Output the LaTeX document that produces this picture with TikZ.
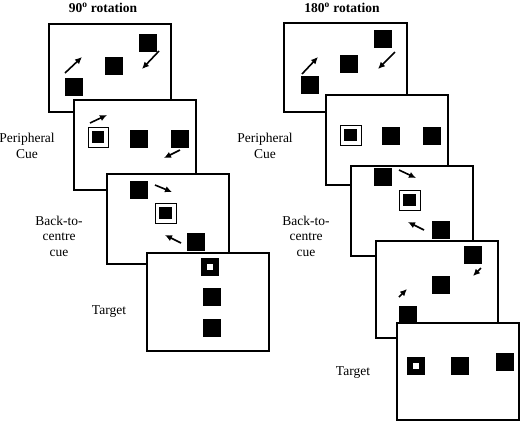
\documentclass[tikz,border=0pt]{standalone}
\usepackage{fontspec}
\setmainfont{Liberation Serif}
\usepackage{tikz}
\usetikzlibrary{arrows.meta}

\begin{document}
\begin{tikzpicture}[x=1pt, y=-1pt,
    screen/.style={draw, line width=1.4pt, fill=white},
    blk/.style={fill=black},
    ring/.style={draw, line width=0.9pt, fill=white},
    cue/.style={line width=1.6pt, -{Latex[length=7pt,width=6.5pt]}},
    lbl/.style={align=center, font=\fontsize{13.5}{15.5}\selectfont},
    ttl/.style={font=\fontsize{13.5}{15.5}\selectfont\bfseries}
    ]

    \useasboundingbox (0, 0) rectangle (520, 421);

    % 90 degree rotation
    \node[ttl] at (103, 8) {90\textsuperscript{o} rotation};

    \draw[screen] (49, 24) rectangle (171, 112);
    \fill[blk] (139, 34) rectangle (157, 52);
    \fill[blk] (105, 57) rectangle (123, 75);
    \fill[blk] (65, 78) rectangle (83, 96);
    \draw[cue] (65, 73) -- (82, 57);
    \draw[cue] (159, 51) -- (142, 69);

    \draw[screen] (74, 100) rectangle (196, 190);
    \draw[ring] (88, 127) rectangle (108, 147);
    \fill[blk] (92, 131) rectangle (104, 143);
    \fill[blk] (130, 130) rectangle (148, 148);
    \fill[blk] (171, 130) rectangle (189, 148);
    \draw[cue] (90, 123) -- (107, 115);
    \draw[cue] (180, 150) -- (164, 158);
    \node[lbl] at (27, 146) {Peripheral\\Cue};

    \draw[screen] (107, 174) rectangle (229, 264);
    \fill[blk] (130, 181) rectangle (148, 199);
    \draw[cue] (155, 185) -- (172, 192);
    \draw[ring] (155, 203) rectangle (176, 223);
    \fill[blk] (159, 207) rectangle (172, 219);
    \fill[blk] (187, 233) rectangle (205, 251);
    \draw[cue] (181, 243) -- (165, 235);
    \node[lbl] at (59, 236) {Back-to-\\centre\\cue};

    \draw[screen] (147, 253) rectangle (269, 351);
    \fill[blk] (201, 258) rectangle (219, 276);
    \fill[white] (207, 264) rectangle (213, 270);
    \fill[blk] (203, 288) rectangle (221, 306);
    \fill[blk] (203, 319) rectangle (221, 337);
    \node[lbl] at (109, 312) {Target};

    % 180 degree rotation
    \node[ttl] at (342, 8) {180\textsuperscript{o} rotation};

    \draw[screen] (284, 23) rectangle (407, 112);
    \fill[blk] (374, 30) rectangle (392, 48);
    \fill[blk] (340, 55) rectangle (358, 73);
    \fill[blk] (301, 76) rectangle (319, 94);
    \draw[cue] (302, 74) -- (318, 57);
    \draw[cue] (395, 52) -- (378, 69);

    \draw[screen] (326, 95) rectangle (448, 185);
    \draw[ring] (340, 125) rectangle (361, 145);
    \fill[blk] (344, 129) rectangle (357, 141);
    \fill[blk] (382, 127) rectangle (400, 145);
    \fill[blk] (423, 127) rectangle (441, 145);
    \node[lbl] at (265, 146) {Peripheral\\Cue};

    \draw[screen] (351, 166) rectangle (473, 256);
    \fill[blk] (374, 168) rectangle (392, 186);
    \draw[cue] (399, 170) -- (416, 178);
    \draw[ring] (399, 190) rectangle (420, 210);
    \fill[blk] (403, 194) rectangle (416, 206);
    \fill[blk] (432, 221) rectangle (450, 239);
    \draw[cue] (424, 230) -- (408, 222);
    \node[lbl] at (306, 236) {Back-to-\\centre\\cue};

    \draw[screen] (376, 241) rectangle (498, 338);
    \fill[blk] (464, 246) rectangle (482, 264);
    \fill[blk] (432, 276) rectangle (450, 294);
    \fill[blk] (399, 306) rectangle (417, 324);
    \draw[cue] (481, 268) -- (473, 276);
    \draw[cue] (399, 297) -- (407, 289);

    \draw[screen] (397, 323) rectangle (519, 420);
    \fill[blk] (407, 357) rectangle (425, 375);
    \fill[white] (413, 363) rectangle (419, 369);
    \fill[blk] (451, 357) rectangle (469, 375);
    \fill[blk] (496, 353) rectangle (514, 371);
    \node[lbl] at (353, 373) {Target};

\end{tikzpicture}
\end{document}
